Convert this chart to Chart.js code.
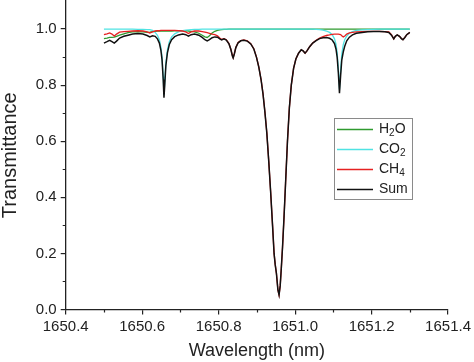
<!DOCTYPE html>
<html>
<head>
<meta charset="utf-8">
<script src="https://cdn.jsdelivr.net/npm/chart.js@4.4.1/dist/chart.umd.min.js"></script>
<style>
  html, body { margin: 0; padding: 0; background: #fff; }
  #wrap { width: 474px; height: 362px; }
</style>
</head>
<body>
<div id="wrap"><canvas id="specChart" width="474" height="362"></canvas></div>
<script>
// wavelength grid (nm)
const wavelength = [
  1650.500, 1650.508, 1650.515, 1650.521, 1650.527, 1650.533, 1650.541, 1650.552, 1650.563, 1650.575,
  1650.589, 1650.602, 1650.613, 1650.620, 1650.627, 1650.634, 1650.640, 1650.645, 1650.649, 1650.652,
  1650.655, 1650.657, 1650.659, 1650.662, 1650.666, 1650.671, 1650.677, 1650.685, 1650.695, 1650.706,
  1650.714, 1650.721, 1650.728, 1650.737, 1650.748, 1650.757, 1650.764, 1650.770, 1650.776, 1650.783,
  1650.790, 1650.797, 1650.803, 1650.808, 1650.814, 1650.820, 1650.827, 1650.832, 1650.836, 1650.838,
  1650.841, 1650.845, 1650.851, 1650.858, 1650.866, 1650.875, 1650.884, 1650.892, 1650.899, 1650.905,
  1650.911, 1650.916, 1650.921, 1650.926, 1650.931, 1650.936, 1650.941, 1650.945, 1650.948, 1650.951,
  1650.955, 1650.958, 1650.961, 1650.964, 1650.967, 1650.971, 1650.975, 1650.980, 1650.985, 1650.990,
  1650.996, 1651.002, 1651.009, 1651.016, 1651.021, 1651.026, 1651.031, 1651.038, 1651.046, 1651.055,
  1651.064, 1651.073, 1651.082, 1651.090, 1651.097, 1651.103, 1651.107, 1651.110, 1651.113, 1651.116,
  1651.119, 1651.122, 1651.126, 1651.130, 1651.135, 1651.142, 1651.150, 1651.160, 1651.175, 1651.190,
  1651.205, 1651.220, 1651.235, 1651.245, 1651.252, 1651.258, 1651.262, 1651.267, 1651.273, 1651.278,
  1651.282, 1651.287, 1651.292, 1651.300
];

const h2o = [
  0.966, 0.968, 0.970, 0.970, 0.971, 0.974, 0.978, 0.983, 0.987, 0.990,
  0.991, 0.990, 0.988, 0.989, 0.991, 0.992, 0.993, 0.993, 0.993, 0.993,
  0.993, 0.993, 0.993, 0.993, 0.993, 0.993, 0.993, 0.994, 0.994, 0.994,
  0.994, 0.993, 0.992, 0.990, 0.985, 0.978, 0.972, 0.970, 0.976, 0.986,
  0.992, 0.995, 0.997, 0.998, 0.999, 0.999, 1.000, 1.000, 1.000, 1.000,
  1.000, 1.000, 1.000, 1.000, 1.000, 1.000, 1.000, 1.000, 1.000, 1.000,
  1.000, 1.000, 1.000, 1.000, 1.000, 1.000, 1.000, 1.000, 1.000, 1.000,
  1.000, 1.000, 1.000, 1.000, 1.000, 1.000, 1.000, 1.000, 1.000, 1.000,
  1.000, 1.000, 1.000, 1.000, 1.000, 1.000, 1.000, 1.000, 1.000, 1.000,
  1.000, 1.000, 1.000, 1.000, 1.000, 1.000, 1.000, 1.000, 1.000, 1.000,
  1.000, 1.000, 1.000, 1.000, 1.000, 1.000, 1.000, 1.000, 1.000, 1.000,
  1.000, 1.000, 1.000, 1.000, 1.000, 1.000, 1.000, 1.000, 1.000, 1.000,
  1.000, 1.000, 1.000, 1.000
];

const co2 = [
  1.000, 1.000, 1.000, 1.000, 1.000, 1.000, 1.000, 1.000, 1.000, 1.000,
  0.999, 0.999, 0.998, 0.998, 0.995, 0.988, 0.978, 0.962, 0.935, 0.900,
  0.830, 0.765, 0.810, 0.880, 0.925, 0.955, 0.972, 0.983, 0.990, 0.994,
  0.996, 0.997, 0.998, 0.999, 0.999, 1.000, 1.000, 1.000, 1.000, 1.000,
  1.000, 1.000, 1.000, 1.000, 1.000, 1.000, 1.000, 1.000, 1.000, 1.000,
  1.000, 1.000, 1.000, 1.000, 1.000, 1.000, 1.000, 1.000, 1.000, 1.000,
  1.000, 1.000, 1.000, 1.000, 1.000, 1.000, 1.000, 1.000, 1.000, 1.000,
  1.000, 1.000, 1.000, 1.000, 1.000, 1.000, 1.000, 1.000, 1.000, 1.000,
  1.000, 1.000, 1.000, 1.000, 1.000, 1.000, 1.000, 1.000, 1.000, 0.999,
  0.998, 0.996, 0.993, 0.988, 0.980, 0.965, 0.945, 0.915, 0.860, 0.785,
  0.850, 0.910, 0.945, 0.963, 0.975, 0.985, 0.991, 0.995, 0.997, 0.998,
  0.999, 1.000, 1.000, 1.000, 1.000, 1.000, 1.000, 1.000, 1.000, 1.000,
  1.000, 1.000, 1.000, 1.000
];

const ch4 = [
  0.980, 0.983, 0.986, 0.982, 0.975, 0.982, 0.989, 0.991, 0.992, 0.993,
  0.994, 0.993, 0.990, 0.986, 0.990, 0.993, 0.994, 0.994, 0.995, 0.995,
  0.995, 0.995, 0.995, 0.995, 0.995, 0.995, 0.995, 0.995, 0.994, 0.993,
  0.990, 0.984, 0.990, 0.993, 0.993, 0.991, 0.989, 0.987, 0.985, 0.982,
  0.980, 0.976, 0.968, 0.963, 0.966, 0.962, 0.948, 0.928, 0.905, 0.898,
  0.912, 0.935, 0.952, 0.959, 0.961, 0.958, 0.948, 0.930, 0.900, 0.865,
  0.820, 0.770, 0.705, 0.630, 0.530, 0.420, 0.300, 0.200, 0.160, 0.130,
  0.070, 0.052, 0.085, 0.150, 0.220, 0.330, 0.450, 0.600, 0.720, 0.800,
  0.860, 0.893, 0.914, 0.926, 0.922, 0.914, 0.922, 0.937, 0.950, 0.960,
  0.968, 0.973, 0.977, 0.979, 0.981, 0.982, 0.982, 0.982, 0.982, 0.981,
  0.980, 0.976, 0.972, 0.975, 0.982, 0.986, 0.988, 0.990, 0.991, 0.992,
  0.992, 0.992, 0.991, 0.990, 0.980, 0.965, 0.974, 0.979, 0.974, 0.966,
  0.962, 0.970, 0.980, 0.988
];

const total = [
  0.950, 0.955, 0.960, 0.955, 0.950, 0.957, 0.968, 0.974, 0.978, 0.982,
  0.984, 0.982, 0.977, 0.972, 0.976, 0.974, 0.965, 0.950, 0.924, 0.890,
  0.820, 0.755, 0.800, 0.870, 0.915, 0.945, 0.962, 0.973, 0.979, 0.982,
  0.980, 0.975, 0.980, 0.982, 0.978, 0.970, 0.962, 0.958, 0.962, 0.969,
  0.972, 0.971, 0.965, 0.961, 0.965, 0.961, 0.947, 0.927, 0.904, 0.897,
  0.911, 0.934, 0.951, 0.958, 0.960, 0.957, 0.947, 0.929, 0.899, 0.864,
  0.819, 0.769, 0.704, 0.629, 0.529, 0.419, 0.299, 0.199, 0.159, 0.130,
  0.070, 0.052, 0.085, 0.150, 0.220, 0.330, 0.450, 0.600, 0.720, 0.800,
  0.860, 0.893, 0.914, 0.926, 0.922, 0.914, 0.922, 0.937, 0.950, 0.959,
  0.966, 0.969, 0.970, 0.967, 0.961, 0.948, 0.928, 0.899, 0.845, 0.771,
  0.834, 0.889, 0.919, 0.940, 0.958, 0.971, 0.979, 0.985, 0.988, 0.990,
  0.991, 0.991, 0.990, 0.988, 0.978, 0.965, 0.974, 0.979, 0.974, 0.966,
  0.962, 0.970, 0.980, 0.988
];

const seriesNames = ['H₂O', 'CO₂', 'CH₄', 'Sum'];
const seriesColors = ['#2f9a2f', '#4fe3e3', '#e52222', '#111111'];

const xTicks = [1650.4, 1650.6, 1650.8, 1651.0, 1651.2, 1651.4];
const xMinor = [1650.5, 1650.7, 1650.9, 1651.1, 1651.3];
const yTicks = [0.0, 0.2, 0.4, 0.6, 0.8, 1.0];
const yMinor = [0.1, 0.3, 0.5, 0.7, 0.9];

const axisColor = '#222';
const fontFamily = '"Liberation Sans", Arial, sans-serif';

function pts(ys) {
  return wavelength.map((w, i) => ({ x: w, y: ys[i] }));
}

// minor tick marks and the boxed legend
const extras = {
  id: 'extras',
  afterDraw(chart) {
    const { ctx, scales: { x, y } } = chart;
    ctx.save();
    ctx.strokeStyle = axisColor;
    ctx.lineWidth = 1.2;
    ctx.beginPath();
    xMinor.forEach(v => {
      const px = Math.round(x.getPixelForValue(v)) + 0.5;
      ctx.moveTo(px, x.top);
      ctx.lineTo(px, x.top + 3);
    });
    yMinor.forEach(v => {
      const py = Math.round(y.getPixelForValue(v)) + 0.5;
      ctx.moveTo(y.right, py);
      ctx.lineTo(y.right - 3, py);
    });
    ctx.stroke();

    // legend box
    ctx.strokeStyle = '#8a8a8a';
    ctx.lineWidth = 1;
    ctx.strokeRect(334.5, 118.5, 78, 81);
    const subs = { '₂': '2', '₄': '4' };
    seriesNames.forEach((name, i) => {
      const rowY = 129.5 + i * 20;
      ctx.strokeStyle = seriesColors[i];
      ctx.lineWidth = 1.3;
      ctx.beginPath();
      ctx.moveTo(337, rowY);
      ctx.lineTo(373, rowY);
      ctx.stroke();
      let tx = 379;
      ctx.fillStyle = axisColor;
      ctx.textBaseline = 'middle';
      for (const ch of name) {
        if (subs[ch]) {
          ctx.font = '10px ' + fontFamily;
          ctx.fillText(subs[ch], tx, rowY + 4);
          tx += ctx.measureText(subs[ch]).width;
        } else {
          ctx.font = '14px ' + fontFamily;
          ctx.fillText(ch, tx, rowY);
          tx += ctx.measureText(ch).width;
        }
      }
    });
    ctx.restore();
  }
};

new Chart(document.getElementById('specChart'), {
  type: 'line',
  data: {
    datasets: [h2o, co2, ch4, total].map((ys, i) => ({
      label: seriesNames[i],
      data: pts(ys),
      borderColor: seriesColors[i],
      borderWidth: i === 3 ? 1.5 : 1.3,
      pointRadius: 0,
      tension: 0,
      fill: false,
      order: 4 - i
    }))
  },
  options: {
    responsive: false,
    animation: false,
    parsing: false,
    layout: { padding: { top: 1, left: 0, right: 0, bottom: 0 } },
    plugins: {
      legend: { display: false },
      tooltip: { enabled: false }
    },
    scales: {
      x: {
        type: 'linear',
        min: 1650.4,
        max: 1651.4,
        afterBuildTicks: s => { s.ticks = xTicks.map(v => ({ value: v })); },
        afterFit: s => { s.height = 52.5; },
        grid: { drawOnChartArea: false, drawTicks: true, tickLength: 5, color: axisColor, lineWidth: 1.2 },
        border: { display: true, color: axisColor, width: 1.3 },
        ticks: {
          color: axisColor,
          padding: 3,
          maxRotation: 0,
          font: { family: fontFamily, size: 15 },
          callback: v => v.toFixed(1)
        },
        title: {
          display: true,
          text: 'Wavelength (nm)',
          color: axisColor,
          font: { family: fontFamily, size: 18, lineHeight: 1 },
          padding: { top: 0, bottom: 2 }
        }
      },
      y: {
        min: 0,
        max: 1.1,
        afterBuildTicks: s => { s.ticks = yTicks.map(v => ({ value: v })); },
        afterFit: s => { s.width = 65.7; s.paddingTop = 0; s.paddingBottom = 0; },
        grid: { drawOnChartArea: false, drawTicks: true, tickLength: 5, color: axisColor, lineWidth: 1.2 },
        border: { display: true, color: axisColor, width: 1.3 },
        ticks: {
          color: axisColor,
          padding: 4,
          font: { family: fontFamily, size: 15 },
          callback: v => v.toFixed(1)
        },
        title: {
          display: true,
          text: 'Transmittance',
          color: axisColor,
          font: { family: fontFamily, size: 20, lineHeight: 1 },
          padding: { top: 0, bottom: 0 }
        }
      }
    }
  },
  plugins: [extras]
});
</script>
</body>
</html>
